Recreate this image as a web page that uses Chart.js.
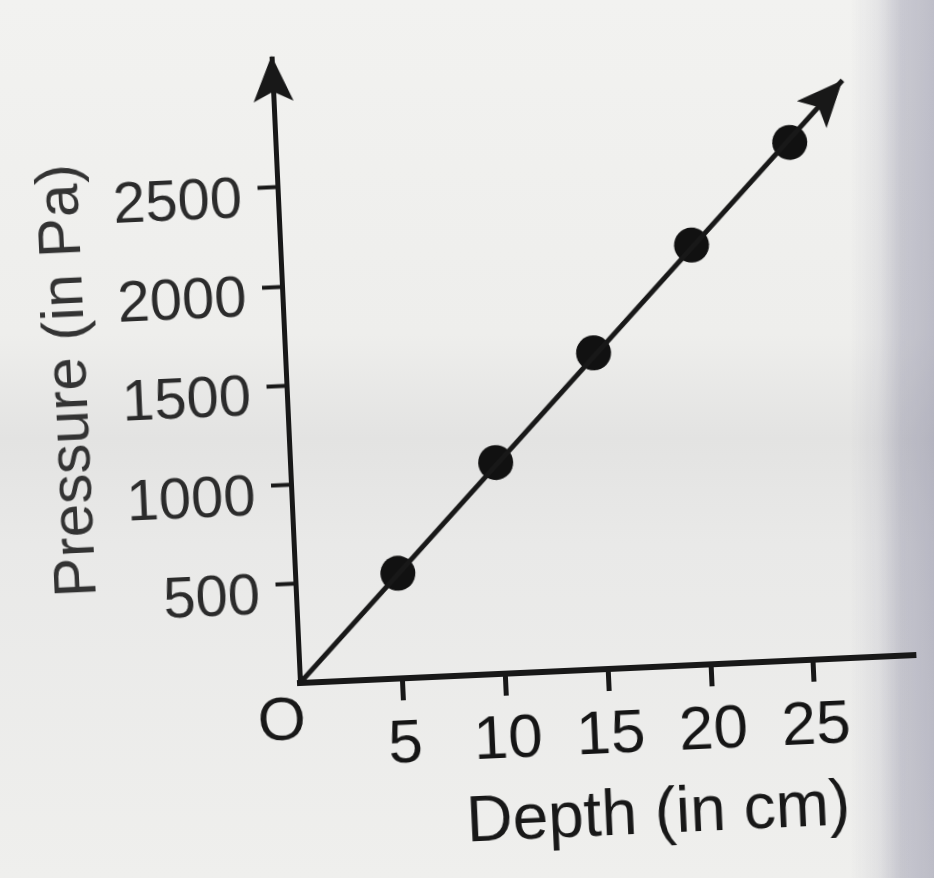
<!DOCTYPE html>
<html>
<head>
<meta charset="utf-8">
<script src="https://cdn.jsdelivr.net/npm/chart.js@4.4.1/dist/chart.umd.min.js"></script>
<style>
  html, body { margin: 0; padding: 0; }
  body {
    width: 934px; height: 878px; overflow: hidden;
    background:
      linear-gradient(to right, rgba(70,70,110,0) 0%, rgba(70,70,110,0) 91%, rgba(70,70,110,0.08) 94%, rgba(70,70,110,0.24) 96.5%, rgba(70,70,110,0.3) 100%),
      linear-gradient(to bottom, #f2f2f0 0%, #eeeeec 38%, #e3e3e2 50%, #e9e9e8 62%, #efefed 100%);
  }
  #wrap {
    position: absolute; left: 0; top: 0; width: 934px; height: 878px;
    transform: rotate(-2.6deg); transform-origin: 300px 683px;
  }
</style>
</head>
<body>
<div id="wrap"><canvas id="myChart" width="934" height="878"></canvas></div>
<script>
// values
const depth = [5, 10, 15, 20, 25];
const pressure = [530, 1065, 1595, 2115, 2610];
// straight line through the origin, ending in the arrow head
const lineDepth = [0, 27.7];
const linePressure = [0, 2910];
const xTicks = [5, 10, 15, 20, 25];
const yTicks = [500, 1000, 1500, 2000, 2500];

const ink = '#181818';
const fontFam = "'Liberation Sans', Arial, sans-serif";

function arrowHead(ctx, x, y, angle, len, half) {
    ctx.save();
    ctx.translate(x, y);
    ctx.rotate(angle);
    ctx.beginPath();
    ctx.moveTo(0, 0);
    ctx.lineTo(-len, -half);
    ctx.lineTo(-len * 0.78, 0);
    ctx.lineTo(-len, half);
    ctx.closePath();
    ctx.fillStyle = ink;
    ctx.fill();
    ctx.restore();
}

const extras = {
    id: 'extras',
    afterDraw(chart) {
        const ctx = chart.ctx;
        const area = chart.chartArea;
        const xs = chart.scales.x;
        const ys = chart.scales.y;

        // arrow on the data line
        const pts = chart.getDatasetMeta(0).data;
        const a = pts[pts.length - 2], b = pts[pts.length - 1];
        arrowHead(ctx, b.x, b.y, Math.atan2(b.y - a.y, b.x - a.x), 46, 20);

        // arrow on top of the y axis
        arrowHead(ctx, area.left, area.top - 3, -Math.PI / 2, 46, 20);

        ctx.save();
        ctx.fillStyle = ink;
        // origin label
        ctx.font = '62px ' + fontFam;
        ctx.textAlign = 'center';
        ctx.textBaseline = 'middle';
        ctx.fillText('O', xs.getPixelForValue(0) - 20, ys.getPixelForValue(0) + 39);
        // x axis title
        ctx.font = '64px ' + fontFam;
        ctx.textBaseline = 'alphabetic';
        ctx.fillText('Depth (in cm)', 652, 849);
        ctx.restore();
    }
};

const data = {
    datasets: [
        {
            data: lineDepth.map((d, i) => ({x: d, y: linePressure[i]})),
            showLine: true,
            borderColor: ink,
            borderWidth: 5,
            pointRadius: 0
        },
        {
            data: depth.map((d, i) => ({x: d, y: pressure[i]})),
            pointRadius: 17.5,
            pointBackgroundColor: '#111111',
            pointBorderWidth: 0
        }
    ]
};

const config = {
    type: 'scatter',
    data: data,
    options: {
        responsive: false,
        animation: false,
        layout: {padding: {left: 0, top: 58, right: 13, bottom: 0}},
        plugins: {
            legend: {display: false},
            tooltip: {enabled: false}
        },
        scales: {
            x: {
                type: 'linear',
                min: 0,
                max: 30,
                afterFit: function(s) { s.height = 195; },
                afterBuildTicks: function(s) { s.ticks = xTicks.map(v => ({value: v})); },
                grid: {drawOnChartArea: false, drawTicks: true, tickLength: 22, tickWidth: 5, color: ink},
                border: {display: true, width: 6, color: ink},
                ticks: {
                    autoSkip: false,
                    maxRotation: 0,
                    padding: 8,
                    color: '#151515',
                    font: {family: fontFam, size: 62},
                    callback: function(v) { return String(v); }
                }
            },
            y: {
                type: 'linear',
                min: 0,
                max: 3150,
                afterFit: function(s) { s.width = 300; },
                afterBuildTicks: function(s) { s.ticks = yTicks.map(v => ({value: v})); },
                grid: {drawOnChartArea: false, drawTicks: true, tickLength: 20, tickWidth: 4, color: ink},
                border: {display: true, width: 5, color: ink},
                ticks: {
                    padding: 16,
                    labelOffset: 12,
                    color: '#2b2b2b',
                    font: {family: fontFam, size: 58},
                    callback: function(v) { return String(v); }
                },
                title: {
                    display: true,
                    text: 'Pressure (in Pa)',
                    color: '#333333',
                    padding: {top: 47, bottom: 0},
                    font: {family: fontFam, size: 60}
                }
            }
        }
    },
    plugins: [extras]
};

const myChart = new Chart(document.getElementById('myChart'), config);
</script>
</body>
</html>
